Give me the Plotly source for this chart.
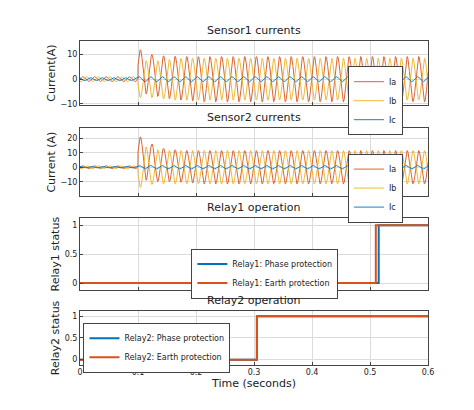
import numpy as np
import plotly.graph_objects as go
from plotly.subplots import make_subplots

# Data
f_hz = 50
t_fault = 0.1
pre_amp = [1.0, 1.0, 0.6]             # Ia, Ib, Ic before fault
s1_peak_a = [12, 10, 9.5, 9.3, 9.2, 9.2]  # Ia peaks per cycle after fault (sensor1)
s1_peak_b = [7.5, 7.5, 8, 8.5, 8.5, 8.5]
s1_amp_c = 1.0
s1_offset_a = [3, 1.5, 0.8, 0.4, 0.2, 0.0]
s2_peak_a = [21, 16, 13, 12, 11.5, 11.5]
s2_peak_b = [14, 12, 11.5, 11.5, 11.5, 11.5]
s2_amp_c = 1.2
s2_offset_a = [6, 3, 1.5, 0.8, 0.3, 0.0]
relay1_trip = [0.515, 0.51]           # phase, earth
relay2_trip = [0.305, 0.305]

t = np.linspace(0, 0.6, 3000)
cyc = np.clip(((t - t_fault) * f_hz).astype(int), 0, 5)
post = t >= t_fault
w = 2 * np.pi * f_hz


def currents(pa, pb, ac, off):
    pa, pb, off = np.array(pa), np.array(pb), np.array(off)
    amp_a = (pa[cyc] - off[cyc])
    ia = np.where(post, off[cyc] + amp_a * np.sin(w * (t - t_fault) + 0.3), pre_amp[0] * np.sin(w * t))
    ib = np.where(post, -pb[cyc] * np.sin(w * (t - t_fault) + 0.3), pre_amp[1] * np.sin(w * t - 2.1))
    ic = np.where(post, ac * np.sin(w * t + 1.0), pre_amp[2] * np.sin(w * t + 2.1))
    return ia, ib, ic


c_a, c_b, c_c = "#D95319", "#EDB120", "#0072BD"
fig = make_subplots(rows=4, cols=1, shared_xaxes=False, vertical_spacing=0.1,
                    subplot_titles=["Sensor1 currents", "Sensor2 currents",
                                    "Relay1 operation", "Relay2 operation"])
for row, args in [(1, (s1_peak_a, s1_peak_b, s1_amp_c, s1_offset_a)),
                  (2, (s2_peak_a, s2_peak_b, s2_amp_c, s2_offset_a))]:
    ia, ib, ic = currents(*args)
    lg = "legend" if row == 1 else "legend2"
    for name, y, c in [("Ia", ia, c_a), ("Ib", ib, c_b), ("Ic", ic, c_c)]:
        fig.add_trace(go.Scatter(x=t, y=y, name=name, mode="lines", line=dict(color=c, width=0.9),
                                 legend=lg), row=row, col=1)

for row, trips, lbl, lg in [(3, relay1_trip, "Relay1", "legend3"), (4, relay2_trip, "Relay2", "legend4")]:
    for name, tr, c, wd in [("Phase protection", trips[0], c_c, 2), ("Earth protection", trips[1], c_a, 2)]:
        fig.add_trace(go.Scatter(x=[0, tr, tr, 0.6], y=[0, 0, 1, 1], name=f"{lbl}: {name}",
                                 mode="lines", line=dict(color=c, width=wd), legend=lg), row=row, col=1)

doms = [(0.758, 0.926), (0.518, 0.697), (0.271, 0.46), (0.074, 0.216)]
yranges = [(-10.5, 15.5), (-20, 27), (-0.12, 1.12), (-0.12, 1.12)]
yticks = [[-10, 0, 10], [-10, 0, 10, 20], [0, 0.5, 1], [0, 0.5, 1]]
ytitles = ["Current(A)", "Current (A)", "Relay1 status", "Relay2 status"]
ax = dict(showgrid=True, gridcolor="#dcdcdc", showline=True, linecolor="#444", mirror=True,
          ticks="inside", ticklen=3, zeroline=False, tickfont=dict(size=8), automargin=False)
for i in range(4):
    fig.update_yaxes(domain=doms[i], range=yranges[i], tickvals=yticks[i],
                     title=dict(text=ytitles[i], font=dict(size=11), standoff=2), row=i + 1, col=1, **ax)
    fig.update_xaxes(range=[0, 0.6], dtick=0.1, showticklabels=(i == 3), row=i + 1, col=1, **ax)
fig.update_xaxes(title=dict(text="Time (seconds)", font=dict(size=11), standoff=0), row=4, col=1)
for i, a in enumerate(fig.layout.annotations):
    a.y = doms[i][1] + 0.005
    a.yanchor = "bottom"
    a.font = dict(size=11, color="#222")

leg = dict(bgcolor="white", bordercolor="#444", borderwidth=1, font=dict(size=8),
           xanchor="left", yanchor="top", tracegroupgap=0, itemwidth=30)
fig.update_layout(
    width=474, height=410, plot_bgcolor="white", paper_bgcolor="white",
    font=dict(family="DejaVu Sans", color="#222"), margin=dict(l=72, r=54, t=5, b=25),
    legend=dict(x=0.77, y=0.86, **leg),
    legend2=dict(x=0.77, y=0.63, **leg),
    legend3=dict(x=0.32, y=0.38, **leg),
    legend4=dict(x=0.01, y=0.185, **leg),
)
fig.write_html("out.html")
